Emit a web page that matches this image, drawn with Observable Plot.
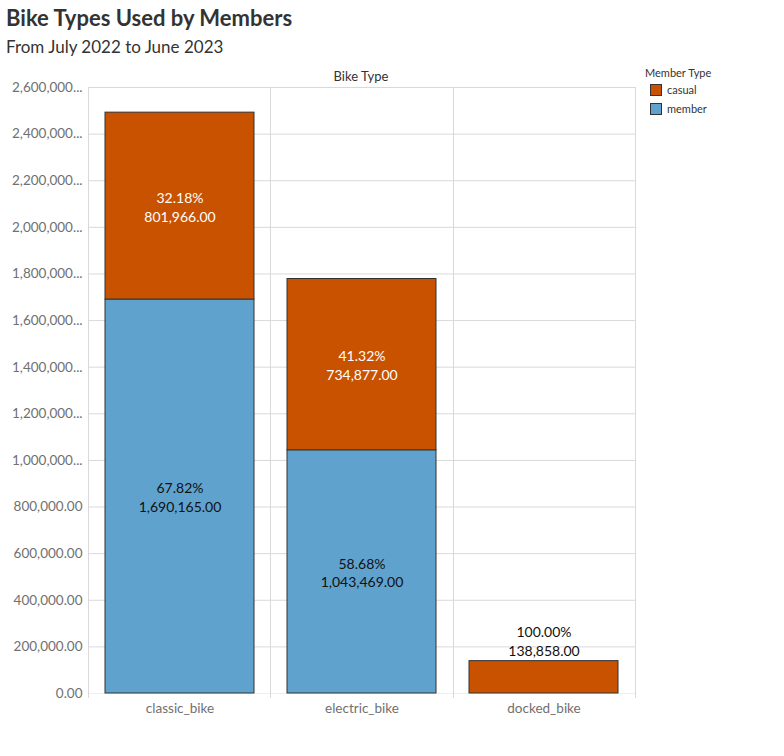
<!DOCTYPE html>
<html><head><meta charset="utf-8">
<script src="https://cdn.jsdelivr.net/npm/d3@7"></script>
<script src="https://cdn.jsdelivr.net/npm/@observablehq/plot@0.6"></script>
<style>
body{margin:0;background:#fff;font-family:Lato,"Open Sans",sans-serif;}
#wrap{position:relative;width:784px;height:756px;overflow:hidden;}
#title{position:absolute;left:6px;top:4px;font-size:22px;font-weight:bold;color:#333;line-height:28px;white-space:nowrap;}
#subtitle{position:absolute;left:6px;top:36px;font-size:17px;color:#333;line-height:22px;white-space:nowrap;}
#xlab{position:absolute;left:261px;width:200px;text-align:center;top:68px;font-size:13px;color:#333;line-height:16px;}
#legend{position:absolute;left:645px;top:66px;font-size:11px;color:#333;}
#legend .lt{line-height:14px;margin-bottom:0;}
#legend .li{display:flex;align-items:center;height:19px;padding-left:5px;}
#legend .sw{display:inline-block;width:10px;height:10px;border:1px solid #333;margin-right:5px;}
#chart{position:absolute;left:0;top:0;}
</style></head><body>
<div id="wrap">
<div id="chart"></div>
<div id="title">Bike Types Used by Members</div>
<div id="subtitle">From July 2022 to June 2023</div>
<div id="xlab">Bike Type</div>
<div id="legend"></div>
</div>
<script>
const bikeTypes = ["classic_bike", "electric_bike", "docked_bike"];
const memberTypes = ["casual", "member"];
const memberColors = ["#C85200", "#5FA2CE"];
const memberCounts = [1690165, 1043469, 0];
const casualCounts = [801966, 734877, 138858];
const yTicks = [0, 200000, 400000, 600000, 800000, 1000000, 1200000, 1400000, 1600000, 1800000, 2000000, 2200000, 2400000, 2600000];

const fmt = d3.format(",.2f");
const rows = [];
bikeTypes.forEach((b, i) => {
  const m = memberCounts[i], c = casualCounts[i], t = m + c;
  if (m > 0) rows.push({bike: b, type: "member", y1: 0, y2: m, count: m, pct: m / t});
  if (c > 0) rows.push({bike: b, type: "casual", y1: m, y2: t, count: c, pct: c / t});
});
rows.forEach(r => {
  const inside = r.count > 300000;
  r.inside = inside;
  r.ly = inside ? (r.y1 + r.y2) / 2 : r.y2;
  r.label = (r.pct * 100).toFixed(2) + "%\n" + fmt(r.count);
  r.lfill = inside && r.type === "casual" ? "#ffffff" : "#111111";
});
const insideRows = rows.filter(r => r.inside);
const aboveRows = rows.filter(r => !r.inside);

function tickFmt(v) {
  const s = fmt(v);
  return s.length > 11 ? s.slice(0, 9) + "..." : s;
}

// legend
const leg = document.getElementById("legend");
leg.innerHTML = '<div class="lt">Member Type</div>' + memberTypes.map((t, i) =>
  `<div class="li"><span class="sw" style="background:${memberColors[i]}"></span>${t}</div>`).join("");

function separators(index, scales, values, dims) {
  const g = d3.create("svg:g");
  const x0 = dims.marginLeft, x1 = dims.width - dims.marginRight;
  const n = bikeTypes.length;
  const yTop = dims.marginTop, yBot = dims.height - dims.marginBottom + 5;
  for (let i = 0; i <= n; i++) {
    const xx = Math.round(x0 + (x1 - x0) * i / n) + 0.5;
    g.append("line").attr("x1", xx).attr("x2", xx).attr("y1", yTop).attr("y2", yBot)
      .attr("stroke", "#d9d9d9").attr("stroke-width", 1);
  }
  return g.node();
}

const chart = Plot.plot({
  width: 784,
  height: 756,
  marginLeft: 88,
  marginRight: 149,
  marginTop: 87,
  marginBottom: 63,
  style: {fontFamily: "Lato, 'Open Sans', sans-serif", fontSize: "13.5px", color: "#707070", background: "transparent"},
  x: {domain: bikeTypes, paddingInner: 0.18, paddingOuter: 0.09, label: null, tickSize: 0, tickPadding: 10},
  y: {domain: [0, 2600000], ticks: yTicks, tickFormat: tickFmt, tickSize: 0, tickPadding: 6, label: null},
  color: {domain: memberTypes, range: memberColors},
  marks: [
    Plot.ruleY(yTicks.filter(d => d > 0), {stroke: "#d9d9d9", strokeWidth: 1}),
    Plot.ruleY([0], {stroke: "#eeeeee"}),
    separators,
    Plot.rectY(rows, {x: "bike", y1: "y1", y2: "y2", fill: "type", stroke: "#333", strokeWidth: 1}),
    Plot.text(insideRows, {x: "bike", y: "ly", text: "label", fill: "lfill", fontSize: 14, lineHeight: 1.35, lineAnchor: "middle"}),
    Plot.text(aboveRows, {x: "bike", y: "ly", text: "label", fill: "lfill", fontSize: 14, lineHeight: 1.35, lineAnchor: "middle", dy: -21})
  ]
});
document.getElementById("chart").appendChild(chart);
</script>
</body></html>
